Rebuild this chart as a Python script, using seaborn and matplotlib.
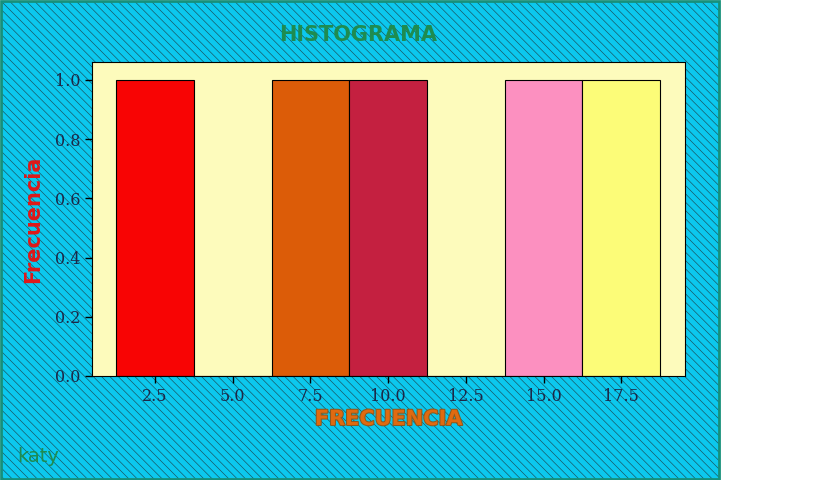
import matplotlib
matplotlib.use('Agg')
import matplotlib.pyplot as plt
import matplotlib.patheffects as pe
from matplotlib.patches import Rectangle
import seaborn as sns

# datos
valores = [2.5, 7.5, 10.0, 15.0, 17.5]
bordes = [1.25, 3.75, 6.25, 8.75, 11.25, 13.75, 16.25, 18.75]
colores = ['#f80404', '#fcfcbc', '#dc5c08', '#c42040', '#fcfcbc', '#fc90c0', '#fcfc78']

sns.set_style('ticks')
plt.rcParams['hatch.linewidth'] = 0.45

fig = plt.figure(figsize=(8.39, 4.8), dpi=100)
# fondo rayado + borde
fondo = Rectangle((0.001, 0.002), 718 / 839, 0.995, transform=fig.transFigure,
                  facecolor='#0cc8ee', edgecolor='#1a4f5a', hatch='\\\\\\\\',
                  linewidth=0, zorder=-5)
borde = Rectangle((0.001, 0.002), 718 / 839, 0.995, transform=fig.transFigure,
                  facecolor='none', edgecolor='#16907a', linewidth=2, zorder=-4)
fig.patches.extend([fondo, borde])

ax = fig.add_axes([92 / 839, 104 / 480, 593 / 839, 314 / 480])
ax.set_zorder(2)
ax.set_facecolor('#fdfbbc')

sns.histplot(x=valores, bins=bordes, ax=ax, edgecolor='black', linewidth=0.8, alpha=1)
for p, c in zip(ax.patches, colores):
    p.set_facecolor(c)

ax.set_xlim(0.47, 19.55)
ax.set_ylim(0, 1.06)
ax.set_yticks([0.0, 0.2, 0.4, 0.6, 0.8, 1.0])
ax.set_xticks([2.5, 5.0, 7.5, 10.0, 12.5, 15.0, 17.5])
ax.tick_params(colors='black', labelcolor='#1c2848', labelsize=11.5, length=5, width=1)
for lab in ax.get_xticklabels() + ax.get_yticklabels():
    lab.set_family('DejaVu Serif')
for s in ax.spines.values():
    s.set_visible(True)
    s.set_color('black')

fig.text(358 / 839, 1 - 35 / 480, 'HISTOGRAMA', color='#1e8c50', fontsize=15,
         fontweight='bold', family='DejaVu Sans', ha='center', va='center')
ax.set_xlabel('FRECUENCIA', color='#e06a10', fontsize=15, fontweight='bold',
              family='DejaVu Sans', labelpad=3,
              path_effects=[pe.withStroke(linewidth=1.5, foreground='#8a5a20')])
ax.set_ylabel('Frecuencia', color='#e01818', fontsize=15, fontweight='bold',
              family='DejaVu Sans', labelpad=8)
fig.text(17 / 839, 1 - 456 / 480, 'katy', color='#1e8c50', fontsize=14,
         va='center', ha='left', family='DejaVu Sans')

fig.savefig('out.png', dpi=100)
